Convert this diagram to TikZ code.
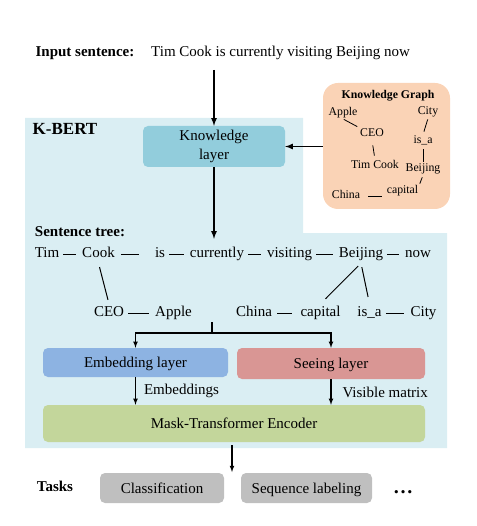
\documentclass[tikz,border=0pt]{standalone}
\usepackage{fontspec}
\setmainfont{Liberation Serif}
\usetikzlibrary{arrows}

\definecolor{kbertbg}{HTML}{DAEEF3}
\definecolor{knowfill}{HTML}{92CDDC}
\definecolor{kgfill}{HTML}{FAD3B6}
\definecolor{embfill}{HTML}{8DB3E2}
\definecolor{seefill}{HTML}{D99694}
\definecolor{encfill}{HTML}{C3D69B}
\definecolor{taskfill}{HTML}{BFBFBF}

\tikzset{
	word/.style={font=\fontsize{15}{18}\selectfont, inner sep=2pt, text height=10.5pt, text depth=3.5pt},
	head/.style={word, font=\fontsize{15}{18}\selectfont\bfseries},
	kgword/.style={font=\fontsize{11.8}{14}\selectfont, inner sep=1pt, text height=8pt, text depth=2.5pt},
	layerbox/.style={rounded corners=5pt, inner sep=0pt, align=center, font=\fontsize{15}{18}\selectfont},
	oneline/.style={layerbox, text height=10pt, text depth=0pt},
	treeline/.style={line width=1pt},
	kgline/.style={line width=0.8pt},
	bigarrow/.style={line width=1.6pt, -latex},
	smallarrow/.style={line width=1.1pt, -latex}
}

\begin{document}
\begin{tikzpicture}[x=1pt, y=-1pt]
		%%%%% START %%%%%
		\useasboundingbox (0, 0) rectangle (476, 526);
		
		% K-BERT area
		\fill[kbertbg] (25, 118) -- (303, 118) -- (303, 233) -- (447, 233) -- (447, 448) -- (25, 448) -- cycle;
		\node[head, font=\fontsize{17}{20}\selectfont\bfseries] (kbert) at (65, 131.5) {K-BERT};
		
		% input
		\node[head] (inlabel) at (85, 53.5) {Input sentence:};
		\node[word] (insent) at (280.5, 53.5) {Tim Cook is currently visiting Beijing now};
		\coordinate (intop) at (214, 70);
		
		\node[layerbox, fill=knowfill, minimum width=142pt, minimum height=41pt] (know) at (214, 146.5) {Knowledge\\[1pt]layer};
		
		% knowledge graph
		\node[rounded corners=15pt, fill=kgfill, minimum width=127pt, minimum height=126pt] (kg) at (386.5, 146) {};
		\node[kgword, font=\fontsize{11.8}{14}\selectfont\bfseries] (kgtitle) at (388, 96) {Knowledge Graph};
		\node[kgword] (kgapple) at (343, 112.5) {Apple};
		\node[kgword] (kgcity) at (428, 112) {City};
		\node[kgword] (kgceo) at (372, 134) {CEO};
		\node[kgword] (kgisa) at (423, 141) {is\_a};
		\node[kgword] (kgtim) at (375, 166) {Tim Cook};
		\node[kgword] (kgbj) at (423, 169) {Beijing};
		\node[kgword] (kgchina) at (346, 196) {China};
		\node[kgword] (kgcap) at (402.5, 191) {capital};
		
		\draw[kgline, shorten <=1pt, shorten >=2pt] (kgapple.south) -- (kgceo.north west);
		\draw[kgline, shorten <=5pt, shorten >=4pt] (kgceo.south) -- (kgtim.north);
		\draw[kgline, shorten <=1pt, shorten >=3pt] (kgcity.south) -- (kgisa.north);
		\draw[kgline, shorten <=2pt, shorten >=1pt] (kgisa.south) -- (kgbj.north);
		\draw[kgline, shorten <=2pt, shorten >=1pt] (kgbj.south) -- (kgcap.north east);
		\draw[kgline, shorten <=7pt, shorten >=4pt] (kgchina.east) -- (kgchina.east -| kgcap.west);
		
		% sentence tree
		\node[head] (treelabel) at (80, 233) {Sentence tree:};
		\node[word] (tim) at (47, 254) {Tim};
		\node[word] (cook) at (98.5, 254) {Cook};
		\node[word] (is) at (160, 254) {is};
		\node[word] (cur) at (217, 254) {currently};
		\node[word] (vis) at (289.5, 254) {visiting};
		\node[word] (bj) at (361, 254) {Beijing};
		\node[word] (now) at (418, 254) {now};
		\node[word] (ceo) at (109, 313) {CEO};
		\node[word] (apple) at (173.5, 313) {Apple};
		\node[word] (china) at (254, 313) {China};
		\node[word] (cap) at (320.5, 313) {capital};
		\node[word] (isa) at (369.5, 313) {is\_a};
		\node[word] (city) at (423.5, 313) {City};
		
		\draw[treeline, shorten <=2pt, shorten >=4pt] (tim.east) -- (cook.west);
		\draw[treeline, shorten <=4pt, shorten >=14pt] (cook.east) -- (is.west);
		\draw[treeline, shorten <=2pt, shorten >=4pt] (is.east) -- (cur.west);
		\draw[treeline, shorten <=2pt, shorten >=4pt] (cur.east) -- (vis.west);
		\draw[treeline, shorten <=2pt, shorten >=4pt] (vis.east) -- (bj.west);
		\draw[treeline, shorten <=2pt, shorten >=4pt] (bj.east) -- (now.west);
		\draw[treeline, shorten <=2pt, shorten >=4pt] (ceo.east) -- (apple.west);
		\draw[treeline, shorten <=3pt, shorten >=6pt] (china.east) -- (cap.west);
		\draw[treeline, shorten <=2pt, shorten >=4pt] (isa.east) -- (city.west);
		\draw[treeline, shorten <=4pt, shorten >=4pt] (cook.south) -- (ceo.north);
		\draw[treeline, shorten <=4pt, shorten >=7pt] (bj.south) -- (cap.north);
		\draw[treeline, shorten <=4pt, shorten >=7pt] (bj.south) -- (isa.north);
		
		% layers
		\node[oneline, fill=embfill, minimum width=185pt, minimum height=29pt] (emb) at (135.5, 362.5) {Embedding layer};
		\node[oneline, fill=seefill, minimum width=188pt, minimum height=31pt] (see) at (331, 363.5) {Seeing layer};
		\node[oneline, fill=encfill, minimum width=382pt, minimum height=37pt] (enc) at (234, 423.5) {Mask-Transformer Encoder};
		
		% tasks
		\node[head] (tasks) at (55, 487.5) {Tasks};
		\node[oneline, fill=taskfill, minimum width=124pt, minimum height=30pt] (cls) at (162, 488) {Classification};
		\node[oneline, fill=taskfill, minimum width=131pt, minimum height=30pt] (seq) at (306.5, 488) {Sequence labeling};
		\node[anchor=base, font=\fontsize{20}{22}\selectfont\bfseries] (dots) at (403, 493) {…};
		
		% arrows
		\draw[bigarrow] (intop) -- (know.north);
		\draw[bigarrow] (kg.west |- know.east) -- (know.east);
		\draw[bigarrow, shorten >=6pt] (know.south) -- (know.south |- cur.north);
		
		\coordinate (treeend) at (212, 322);
		\coordinate (fork) at (212, 333);
		\draw[line width=1.1pt] (treeend) -- (fork);
		\draw[smallarrow] (fork) -| (emb.north);
		\draw[smallarrow] (fork) -| (see.north);
		
		\draw[smallarrow] (emb.south) -- (emb.south |- enc.north) node[midway, right=6pt, word] (embl) {Embeddings};
		\draw[smallarrow] (see.south) -- (see.south |- enc.north) node[midway, right=9pt, yshift=-1.5pt, word] (visl) {Visible matrix};
		
		\coordinate (tasktop) at (232, 472);
		\draw[smallarrow, shorten <=3pt] (enc.south -| tasktop) -- (tasktop);
		
		%%%%% END %%%%%
	\end{tikzpicture}
\end{document}
